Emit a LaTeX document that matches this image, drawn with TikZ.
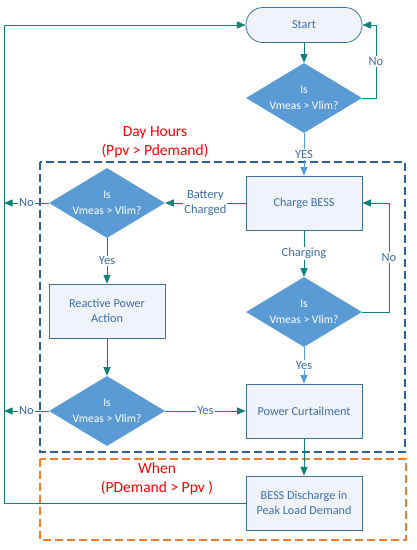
\documentclass[tikz,border=0pt]{standalone}
\usepackage{fontspec}
\setmainfont{Carlito}
\usetikzlibrary{arrows,shapes.geometric}

\definecolor{flowteal}{RGB}{18,128,118}
\definecolor{boxblue}{RGB}{65,113,156}
\definecolor{txtblue}{RGB}{62,110,168}
\definecolor{fillblue}{RGB}{91,155,213}
\definecolor{paleblue}{RGB}{240,244,250}
\definecolor{dashorange}{RGB}{237,125,49}
\definecolor{dashblue}{RGB}{46,94,150}

\begin{document}
\begin{tikzpicture}[x=1pt,y=-1pt,>=triangle 45,
    procbox/.style={draw=boxblue, fill=paleblue, line width=0.8pt, minimum width=116pt, minimum height=54pt, text=txtblue, align=center, font=\fontsize{12.2}{15}\selectfont},
    decide/.style={diamond, fill=fillblue, aspect=1.65, minimum width=116pt, minimum height=70pt, inner sep=0pt, text=white, align=center, font=\fontsize{11.6}{16}\selectfont},
    flow/.style={->, draw=flowteal, line width=1pt},
    yesflow/.style={->, draw=fillblue, line width=1pt},
    lbl/.style={fill=white, text=txtblue, inner sep=1pt, align=center, font=\fontsize{12.5}{15}\selectfont},
    zone/.style={dash pattern=on 8pt off 4pt, line width=1.1pt},
    zonetext/.style={text=red, align=center, font=\fontsize{15.5}{19}\selectfont}]

    \useasboundingbox (0,0) rectangle (416,550);

    % zones
    \draw[zone, draw=dashblue] (40,162) rectangle (405,452);
    \draw[zone, draw=dashorange] (40,459) rectangle (406,540);
    \node[zonetext] at (155,142) (dayhours) {Day Hours\\(Ppv > Pdemand)};
    \node[zonetext] at (157,479) (peak) {When\\(PDemand > Ppv )};

    \node[procbox, rounded corners=17pt, minimum height=35pt] at (304,25) (start) {Start};
    \node[decide] at (304,98) (vcheck) {Is\\Vmeas > Vlim?};
    \node[procbox] at (304,203) (charge) {Charge BESS};
    \node[decide] at (107,203) (vbatt) {Is\\Vmeas > Vlim?};
    \node[procbox] at (107,311) (reactive) {Reactive Power\\Action};
    \node[decide] at (107,411) (vreact) {Is\\Vmeas > Vlim?};
    \node[decide] at (304,312) (vcharge) {Is\\Vmeas > Vlim?};
    \node[procbox] at (304,411) (curtail) {Power Curtailment};
    \node[procbox] at (304,503) (discharge) {BESS Discharge in\\Peak Load Demand};

    \coordinate (bus) at (4,25);
    \coordinate (noloop) at (376,98);
    \coordinate (chargeloop) at (389,312);

    \draw[flow] (start) -- (vcheck);
    \draw[flow] (vcheck.east) -- (noloop) |- node[lbl, pos=0.25] {No} (start.east);
    \draw[yesflow] (vcheck) -- node[lbl] {YES} (charge);
    \draw[flow] (charge) -- node[lbl] {Battery\\Charged} (vbatt);
    \draw[flow] (vbatt.west) -- node[lbl] {No} (vbatt.west -| bus);
    \draw[flow] (vbatt) -- node[lbl] {Yes} (reactive);
    \draw[flow] (reactive) -- (vreact);
    \draw[flow] (vreact.west) -- node[lbl] {No} (vreact.west -| bus);
    \draw[flow] (vreact) -- node[lbl] {Yes} (curtail);
    \draw[flow] (charge) -- node[lbl] {Charging} (vcharge);
    \draw[flow] (vcharge.east) -- (chargeloop) |- node[lbl, pos=0.25] {No} (charge.east);
    \draw[yesflow] (vcharge) -- node[lbl] {Yes} (curtail);
    \draw[flow] (curtail) -- (discharge);
    \draw[flow] (discharge.west) -| (bus) -- (start.west);
\end{tikzpicture}
\end{document}
